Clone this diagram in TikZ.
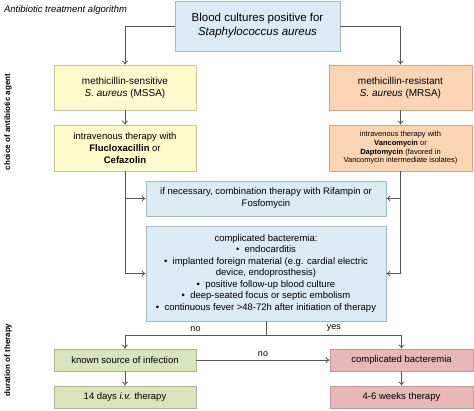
\documentclass[tikz,border=0pt]{standalone}
\usepackage{fontspec}
\setmainfont{Liberation Sans}
\usetikzlibrary{arrows.meta,positioning,shadows}
\definecolor{abxblue}{HTML}{DCEBF3}
\definecolor{abxbluedk}{HTML}{A3BAC4}
\definecolor{abxyel}{HTML}{FFFACB}
\definecolor{abxyeldk}{HTML}{C9C59C}
\definecolor{abxorg}{HTML}{FBD4B4}
\definecolor{abxorgdk}{HTML}{D3A27E}
\definecolor{abxgrn}{HTML}{D7E4BD}
\definecolor{abxgrndk}{HTML}{A9B98B}
\definecolor{abxpnk}{HTML}{E6B9B8}
\definecolor{abxpnkdk}{HTML}{C49594}
\definecolor{abxink}{HTML}{555555}
\newcommand{\fsz}[2]{\fontsize{#1}{#2}\selectfont}
\tikzset{
  bx/.style={draw, line width=0.8pt, align=center, inner sep=1pt, font=\fsz{9.5}{12},
    drop shadow={shadow xshift=1.2pt, shadow yshift=-1.2pt, opacity=0.25}},
  bluebx/.style={bx, draw=abxbluedk, fill=abxblue},
  mssabx/.style={bx, draw=abxyeldk, fill=abxyel, minimum width=142pt},
  mrsabx/.style={bx, draw=abxorgdk, fill=abxorg, minimum width=143pt},
  knownbx/.style={bx, draw=abxgrndk, fill=abxgrn, minimum width=142pt},
  cbbx/.style={bx, draw=abxpnkdk, fill=abxpnk, minimum width=143pt},
  arr/.style={-{To[length=4pt,width=6pt]}, line width=0.8pt, color=abxink},
  ln/.style={line width=0.8pt, color=abxink},
  lbl/.style={font=\fsz{9}{11}, text=black},
  side/.style={rotate=90, font=\fsz{8}{10}\bfseries},
}
\begin{document}
\begin{tikzpicture}[x=1pt, y=-1pt]
  \useasboundingbox (0,0) rectangle (474,410);
  \node[anchor=west, font=\fsz{9.5}{11}\itshape] (title) at (0.5,10) {Antibiotic treatment algorithm};
  \node[side] (agent) at (8,122) {choice of antibiotic agent};
  \node[side] (duration) at (8,360) {duration of therapy};

  \node[bluebx, minimum width=165pt, minimum height=50pt, font=\fsz{11.5}{14}] (cult) at (257.5,26) {Blood cultures positive for\\\textit{Staphylococcus aureus}};
  \node[mssabx, minimum height=45pt, font=\fsz{10}{12}] (mssa) at (125,87.5) {methicillin-sensitive\\\textit{S. aureus} (MSSA)};
  \node[mrsabx, minimum height=45pt, font=\fsz{10}{12}] (mrsa) at (400.5,87.5) {methicillin-resistant\\\textit{S. aureus} (MRSA)};
  \node[mssabx, minimum height=46pt] (flux) at (125,148) {intravenous therapy with\\\textbf{Flucloxacillin} or\\\textbf{Cefazolin}};
  \node[mrsabx, minimum height=46pt, font=\fsz{7.5}{8.7}] (vanc) at (400.5,148) {intravenous therapy with\\\textbf{Vancomycin} or\\\textbf{Daptomycin} (favored in\\Vancomycin intermediate isolates)};
  \node[bluebx, minimum width=240pt, minimum height=35pt] (rif) at (266,198.5) {if necessary, combination therapy with Rifampin or\\Fosfomycin};
  \node[bluebx, minimum width=240pt, minimum height=95pt, font=\fsz{9.5}{11.5}] (compl) at (266,273.5) {complicated bacteremia:\\\textbullet~~endocarditis\\\textbullet~~implanted foreign material (e.g. cardial electric\\device, endoprosthesis)\\\textbullet~~positive follow-up blood culture\\\textbullet~~deep-seated focus or septic embolism\\\textbullet~~continuous fever >48-72h after initiation of therapy};
  \node[knownbx, minimum height=22pt] (known) at (125,360) {known source of infection};
  \node[cbbx, minimum height=22pt] (cb) at (401.5,360) {complicated bacteremia};
  \node[knownbx, minimum height=22pt] (days) at (125,397) {14 days \textit{i.v.} therapy};
  \node[cbbx, minimum height=22pt] (weeks) at (401.5,397) {4-6 weeks therapy};

  \draw[arr] (cult.west) -| (mssa.north);
  \draw[arr] (cult.east) -| (mrsa.north);
  \draw[arr] (mssa) -- (flux);
  \draw[arr] (mrsa) -- (vanc);
  \draw[arr] (flux.south) |- (compl.west);
  \draw[arr] (vanc.south) |- (compl.east);
  \draw[arr] (flux.south |- rif.west) -- (rif.west);
  \draw[arr] (vanc.south |- rif.east) -- (rif.east);
  \draw[ln] (compl.south) -- ++(0,14) coordinate (split);
  \draw[arr] (split) -| node[lbl, pos=0.25, above] {no} (known.north);
  \draw[arr] (split) -| node[lbl, pos=0.25, above] {yes} (cb.north);
  \draw[arr] (known) -- node[lbl, above] {no} (cb);
  \draw[arr] (known) -- (days);
  \draw[arr] (cb) -- (weeks);
\end{tikzpicture}
\end{document}
